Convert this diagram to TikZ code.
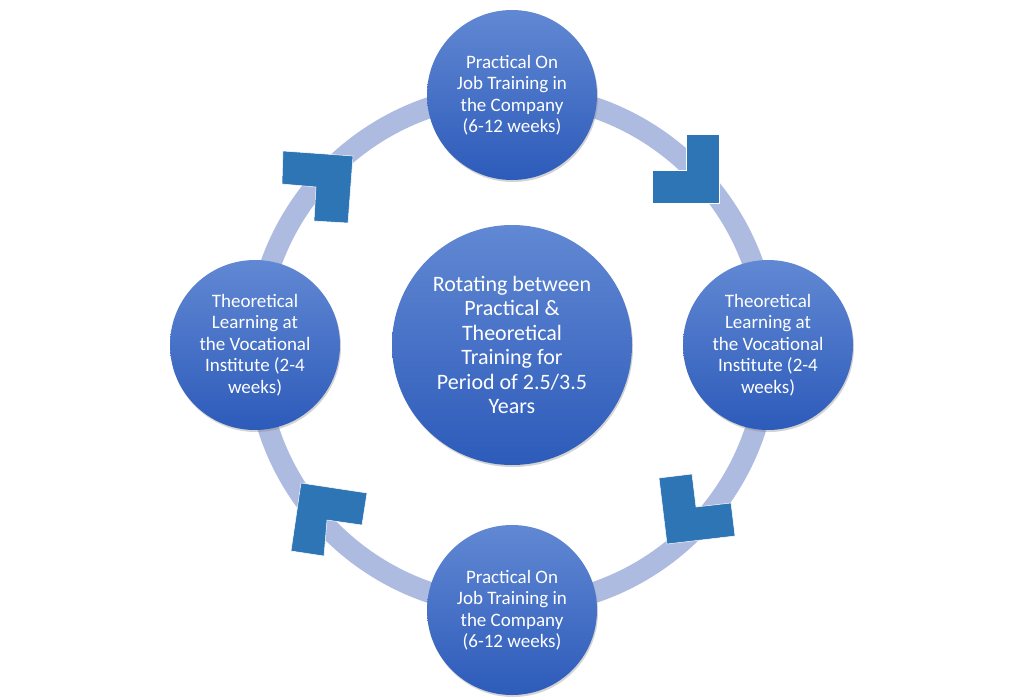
\documentclass[tikz,border=0pt]{standalone}
\usepackage{fontspec}
\setmainfont{Carlito}
\usetikzlibrary{shadows}
\definecolor{ring}{HTML}{AEBBE0}
\definecolor{ctop}{HTML}{6188D3}
\definecolor{cbot}{HTML}{2D5BBA}
\definecolor{mark}{HTML}{2E75B6}
\tikzset{
 bub/.style={circle,minimum size=#1,inner sep=0pt,top color=ctop,bottom color=cbot,
   draw=none,drop shadow={shadow xshift=1pt,shadow yshift=-2pt,opacity=.35},text=white,align=center},
 small/.style={bub=170pt,font=\fontsize{19}{21.5}\selectfont},
 mk/.style={fill=mark,draw=white,line width=0.5pt}
}
\begin{document}
\begin{tikzpicture}[x=1pt,y=-1pt]
\useasboundingbox (0,0) rectangle (1024,698);
\draw[ring,line width=21pt] (512,350) circle (256);
\fill[mk] (283,151)--(353,156)--(348,223)--(314,221)--(316,187)--(282,184)--cycle;
\fill[mk] (686,134)--(719,134)--(719,203)--(652,203)--(652,170)--(686,170)--cycle;
\fill[mk] (301,483)--(367,493)--(362,525)--(327,520)--(324,556)--(291,551)--cycle;
\fill[mk] (659,478)--(692,474)--(696,507)--(731,503)--(735,536)--(667,544)--cycle;
\node[bub=240pt,font=\fontsize{22}{24.5}\selectfont] (c) at (512,345) {Rotating between\\Practical \&\\Theoretical\\Training for\\Period of 2.5/3.5\\Years};
\node[small] (t) at (512,95) {Practical On\\Job Training in\\the Company\\(6-12 weeks)};
\node[small] (b) at (512,610) {Practical On\\Job Training in\\the Company\\(6-12 weeks)};
\node[small] (l) at (255,345) {Theoretical\\Learning at\\the Vocational\\Institute (2-4\\weeks)};
\node[small] (r) at (768,345) {Theoretical\\Learning at\\the Vocational\\Institute (2-4\\weeks)};
\end{tikzpicture}
\end{document}
